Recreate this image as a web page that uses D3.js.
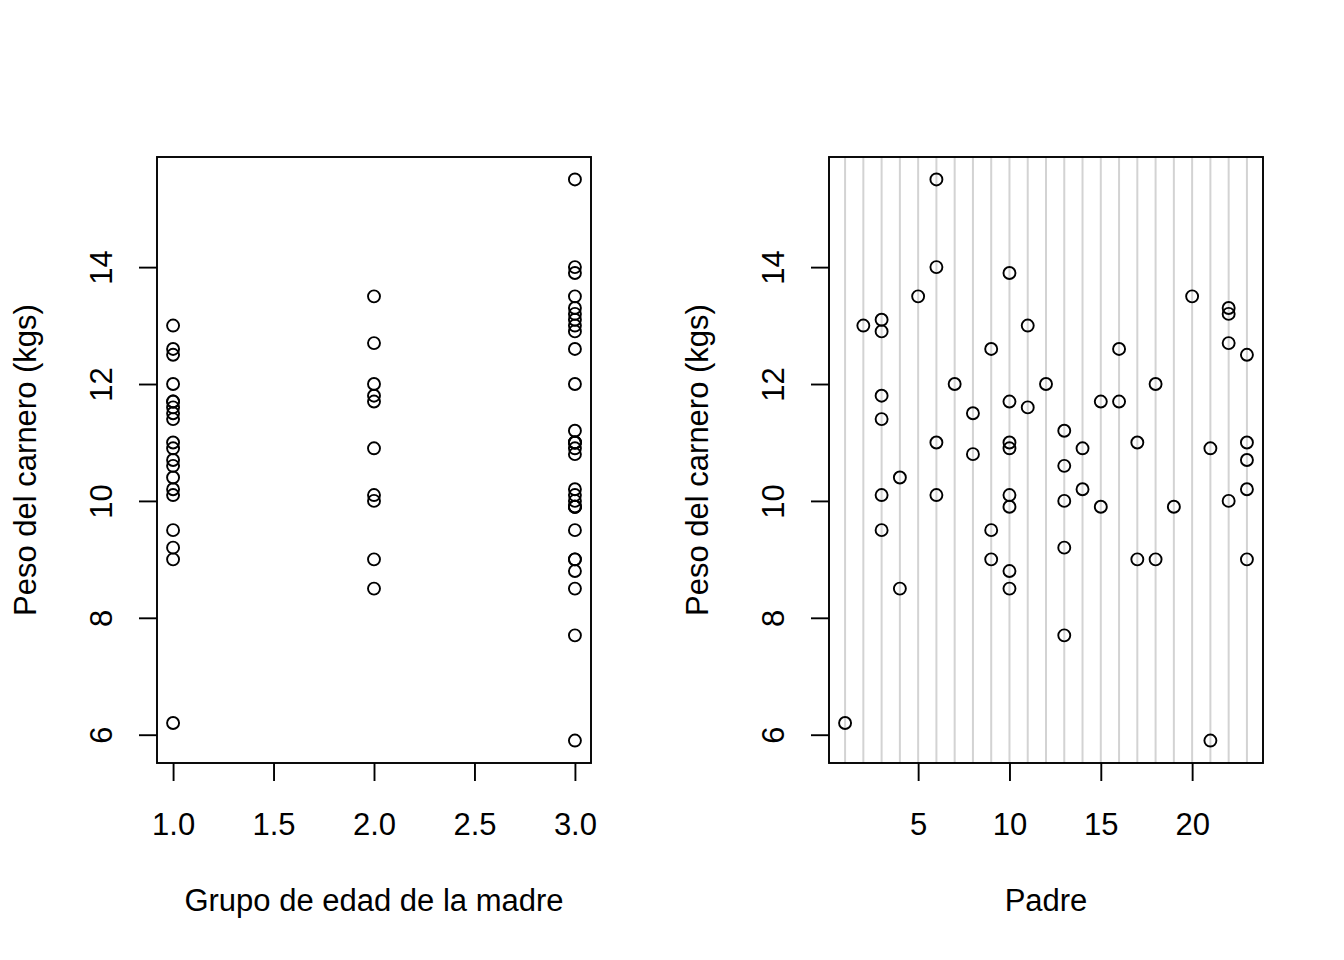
<!DOCTYPE html>
<html>
<head>
<meta charset="utf-8">
<style>
  body { margin: 0; background: #fff; }
  svg { display: block; font-family: "Liberation Sans", Arial, sans-serif; }
  .tick text { font-size: 31px; fill: #000; }
  .tick line { stroke: #000; stroke-width: 1.9; }
  .ttl { font-size: 31px; fill: #000; }
</style>
</head>
<body>
<svg width="1344" height="960"></svg>
<script src="https://d3js.org/d3.v7.min.js"></script>
<script>
// peso del carnero por grupo de edad de la madre
const pesoGrupo1 = [13.0, 12.6, 12.5, 12.0, 11.7, 11.7, 11.6, 11.5, 11.4, 11.0, 10.9, 10.7, 10.6, 10.4, 10.2, 10.1, 9.5, 9.2, 9.0, 6.2];
const pesoGrupo2 = [13.5, 12.7, 12.0, 11.8, 11.7, 10.9, 10.1, 10.0, 9.0, 8.5];
const pesoGrupo3 = [15.5, 14.0, 13.9, 13.5, 13.3, 13.2, 13.1, 13.0, 12.9, 12.6, 12.0, 11.2, 11.0, 11.0, 11.0, 10.9, 10.8,
                    10.2, 10.1, 10.0, 9.9, 9.9, 9.9, 9.5, 9.0, 9.0, 8.8, 8.5, 7.7, 5.9];

// padre y peso (mismo orden)
const padre = [1, 2, 3, 3, 3, 3, 3, 3, 4, 4, 5, 6, 6, 6, 6, 7, 8, 8, 9, 9, 9,
               10, 10, 10, 10, 10, 10, 10, 10, 11, 11, 12, 13, 13, 13, 13, 13,
               14, 14, 15, 15, 16, 16, 17, 17, 18, 18, 19, 20, 21, 21,
               22, 22, 22, 22, 23, 23, 23, 23, 23];
const pesoPadre = [6.2, 13.0, 13.1, 12.9, 11.8, 11.4, 10.1, 9.5, 10.4, 8.5, 13.5, 15.5, 14.0, 11.0, 10.1, 12.0, 11.5, 10.8, 12.6, 9.5, 9.0,
                   13.9, 11.7, 11.0, 10.9, 10.1, 9.9, 8.8, 8.5, 13.0, 11.6, 12.0, 11.2, 10.6, 10.0, 9.2, 7.7,
                   10.9, 10.2, 11.7, 9.9, 12.6, 11.7, 11.0, 9.0, 12.0, 9.0, 9.9, 13.5, 10.9, 5.9,
                   13.3, 13.2, 12.7, 10.0, 12.5, 11.0, 10.7, 10.2, 9.0];

const ticksY = [6, 8, 10, 12, 14];
const ticksGrupo = [1.0, 1.5, 2.0, 2.5, 3.0];
const ticksPadre = [5, 10, 15, 20];
const lineasPadre = d3.range(1, 24);

const svg = d3.select("svg");
const plotTop = 157, plotBottom = 763;

const grupoData = [
  ...pesoGrupo1.map(v => [1, v]),
  ...pesoGrupo2.map(v => [2, v]),
  ...pesoGrupo3.map(v => [3, v])
];
const padreData = padre.map((p, i) => [p, pesoPadre[i]]);

// R style 4% range extension
function pad(ext) {
  let d = (ext[1] - ext[0]) * 0.04;
  return [ext[0] - d, ext[1] + d];
}
const yDom = pad(d3.extent(pesoPadre));

function panel(left, right, data, xTicks, xFmt, xTitle, grid) {
  let g = svg.append("g");
  let x = d3.scaleLinear().domain(pad(d3.extent(data, d => d[0]))).range([left, right]);
  let y = d3.scaleLinear().domain(yDom).range([plotBottom, plotTop]);

  if (grid) {
    g.append("g").selectAll("line")
      .data(grid)
      .join("line")
      .attr("x1", d => x(d)).attr("x2", d => x(d))
      .attr("y1", plotTop).attr("y2", plotBottom)
      .attr("stroke", "#d3d3d3")
      .attr("stroke-width", 2);
  }

  g.append("g").selectAll("circle")
    .data(data)
    .join("circle")
    .attr("cx", d => x(d[0]))
    .attr("cy", d => y(d[1]))
    .attr("r", 6)
    .attr("fill", "none")
    .attr("stroke", "#000")
    .attr("stroke-width", 1.9);

  let xa = g.append("g")
    .attr("transform", `translate(0,${plotBottom})`)
    .call(d3.axisBottom(x).tickValues(xTicks).tickFormat(xFmt).tickSize(18));
  xa.select(".domain").remove();
  xa.selectAll("text").attr("y", 72).attr("dy", 0);

  let ya = g.append("g")
    .attr("transform", `translate(${left},0)`)
    .call(d3.axisLeft(y).tickValues(ticksY).tickSize(18));
  ya.select(".domain").remove();
  ya.selectAll("text")
    .attr("x", 0).attr("dy", 0)
    .attr("text-anchor", "middle")
    .attr("transform", "translate(-45,0) rotate(-90)");

  g.append("rect")
    .attr("x", left).attr("y", plotTop)
    .attr("width", right - left).attr("height", plotBottom - plotTop)
    .attr("fill", "none")
    .attr("stroke", "#000")
    .attr("stroke-width", 1.9);

  g.append("text")
    .attr("class", "ttl")
    .attr("x", (left + right) / 2).attr("y", 911)
    .attr("text-anchor", "middle")
    .text(xTitle);

  g.append("text")
    .attr("class", "ttl")
    .attr("text-anchor", "middle")
    .attr("transform", `translate(${left - 121},${(plotTop + plotBottom) / 2}) rotate(-90)`)
    .text("Peso del carnero (kgs)");
}

panel(157, 591, grupoData, ticksGrupo, d3.format(".1f"), "Grupo de edad de la madre", null);
panel(829, 1263, padreData, ticksPadre, d3.format("d"), "Padre", lineasPadre);
</script>
</body>
</html>
